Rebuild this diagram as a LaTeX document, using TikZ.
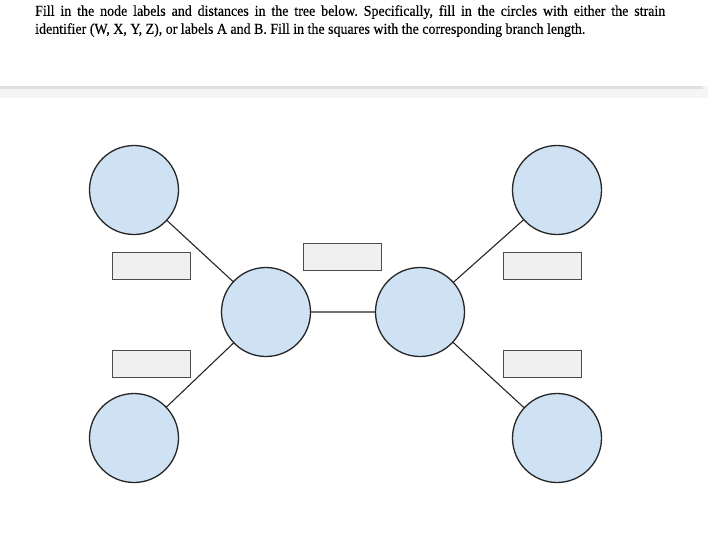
\documentclass[tikz,border=0pt]{standalone}
\usepackage{fontspec}
\setmainfont{Liberation Serif}[FakeStretch=0.93,FakeBold=0.3]
\begin{document}
\begin{tikzpicture}[x=1pt,y=-1pt,
  nd/.style={circle,draw=black!85,line width=1.3pt,fill={rgb,255:red,207;green,226;blue,243},minimum size=89pt,inner sep=0pt},
  bx/.style={rectangle,draw=black!70,line width=1pt,fill=black!6,minimum width=78pt,minimum height=27pt,inner sep=0pt},
  ed/.style={line width=1.1pt,draw=black!85}]
\useasboundingbox (0,0) rectangle (708,547);
\fill[black!4] (0,86) rectangle (708,98);
\fill[black!12] (0,86) rectangle (703,89);
\fill[white] (0,0) rectangle (703,86);
\node[anchor=north west,text width=630pt,align=justify,font=\fontsize{15pt}{18pt}\selectfont\frenchspacing,inner sep=0pt] (txt) at (35,5)
{Fill in the node labels and distances in the tree below. Specifically, fill in the circles with either the strain\linebreak identifier (W, X, Y, Z), or labels A and B. Fill in the squares with the corresponding branch length.};
\coordinate (tl) at (134,190);
\coordinate (bl) at (134,438);
\coordinate (ml) at (266,312);
\coordinate (mr) at (420,312);
\coordinate (tr) at (557,190);
\coordinate (br) at (557,438);
\draw[ed] (tl)--(ml) (bl)--(ml) (ml)--(mr) (mr)--(tr) (mr)--(br);
\node[nd] (a) at (tl) {};
\node[nd] (b) at (bl) {};
\node[nd] (c) at (ml) {};
\node[nd] (d) at (mr) {};
\node[nd] (e) at (tr) {};
\node[nd] (f) at (br) {};
\node[bx] (r1) at (151,266) {};
\node[bx] (r2) at (151,364) {};
\node[bx] (r3) at (342,257) {};
\node[bx] (r4) at (542,266) {};
\node[bx] (r5) at (542,364) {};
\end{tikzpicture}
\end{document}
